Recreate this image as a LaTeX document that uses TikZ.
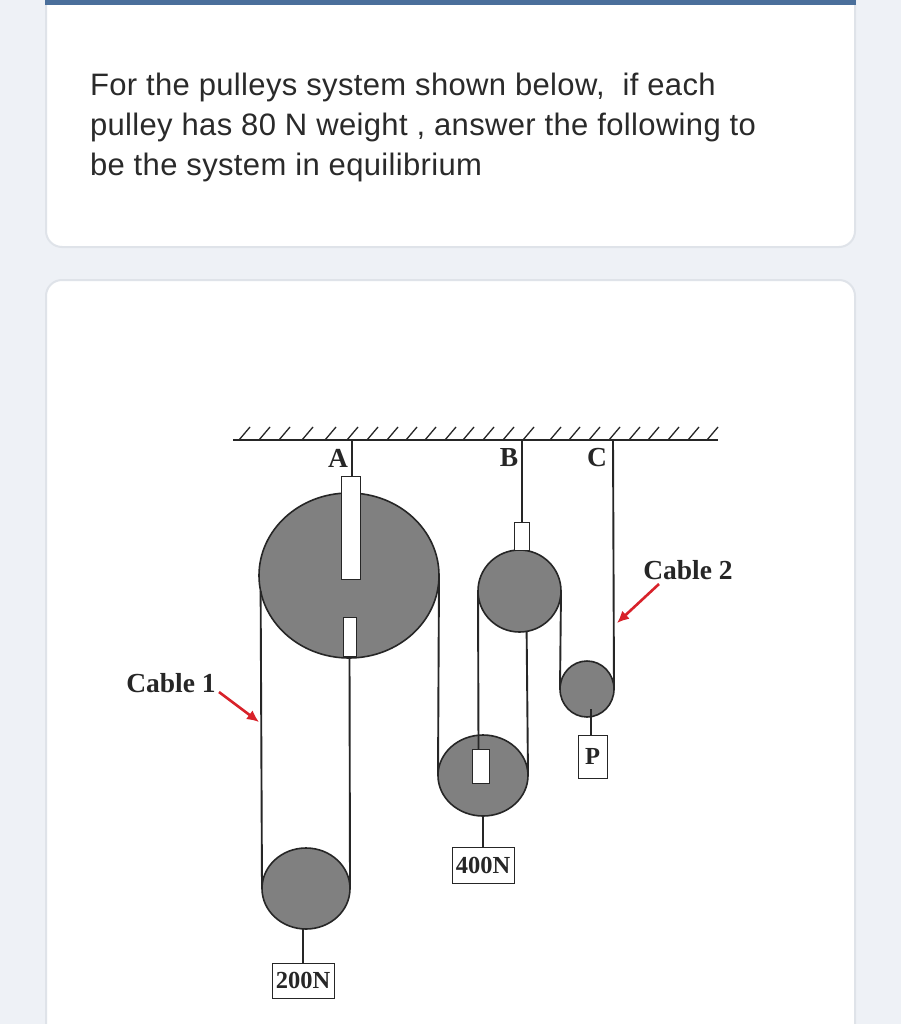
\documentclass[tikz,border=0pt]{standalone}
\usepackage{fontspec}
\setmainfont{Liberation Serif}
\newfontfamily\uifont[LetterSpace=1.1]{Liberation Sans}
\usetikzlibrary{shapes.geometric,arrows.meta}
\definecolor{pagebg}{HTML}{EEF1F6}
\definecolor{cardline}{HTML}{DFE3E9}
\definecolor{barblue}{HTML}{4A6F9B}
\definecolor{pulleygray}{HTML}{808080}
\definecolor{arrowred}{HTML}{D8222A}
\definecolor{inkline}{HTML}{262626}
\definecolor{uitext}{HTML}{2A2A2A}
\tikzset{
  x=1pt,y=-1pt,
  card/.style={fill=white,draw=cardline,line width=2pt,rounded corners=16pt},
  pulley/.style={ellipse,draw=inkline,fill=pulleygray,line width=1.6pt,inner sep=0pt,outer sep=0pt},
  slot/.style={rectangle,draw=inkline,fill=white,line width=1pt,inner sep=0pt,outer sep=0pt},
  weight/.style={rectangle,draw=inkline,fill=white,line width=1pt,inner sep=0pt,outer sep=0pt,font=\fontsize{24.5}{24.5}\selectfont\bfseries,text=inkline},
  rope/.style={draw=inkline,line width=1.9pt},
  thinrope/.style={draw=inkline,line width=1.3pt},
  hatch/.style={draw=inkline,line width=1.3pt},
  lab/.style={inner sep=0pt,outer sep=0pt,font=\fontsize{27.5}{27.5}\selectfont\bfseries,text=inkline},
  pointer/.style={draw=arrowred,line width=2.6pt,-{Latex[length=12pt,width=11pt]}},
  uiline/.style={inner sep=0pt,outer sep=0pt,anchor=base west,text=uitext,font=\fontsize{31}{31}\selectfont\uifont}
}
\begin{document}
\begin{tikzpicture}
\useasboundingbox (0,0) rectangle (901,1024);
\clip (0,0) rectangle (901,1024);
\fill[pagebg] (0,0) rectangle (901,1024);
\draw[card] (46,-30) rectangle (855,247);
\draw[card] (46,280) rectangle (855,1060);
\fill[barblue] (45,0) rectangle (856,5);
\node[uiline] (t1) at (90,96) {For the pulleys system shown below,\ \ if each};
\node[uiline] (t2) at (90,136) {pulley has 80 N weight , answer the following to};
\node[uiline] (t3) at (90,176) {be the system in equilibrium};
% ceiling
\coordinate (ceilL) at (233,440);
\coordinate (ceilR) at (718,440);
\draw[rope] (ceilL) -- (ceilR);
\foreach \h in {239,259,279,302,325,347,367,387,406,425,445,463,483,503,523,550,569,589,609,629,648,668,688,707}
  \draw[hatch] (\h,440) -- ++(11,-13);
\coordinate (ceilA) at (352,440);
\coordinate (ceilB) at (522,440);
\coordinate (ceilC) at (613,440);
% pulleys
\node[pulley,minimum width=180pt,minimum height=165pt] (pA) at (349,575.5) {};
\node[pulley,minimum width=83pt,minimum height=82pt] (pB) at (519.5,591) {};
\node[pulley,minimum width=90pt,minimum height=81pt] (pE) at (483,775.5) {};
\node[pulley,minimum width=54pt,minimum height=56pt] (pS) at (587,689) {};
\node[pulley,minimum width=88pt,minimum height=81pt] (pD) at (306,888.5) {};
% slots and brackets
\node[slot,minimum width=19pt,minimum height=103pt] (sA) at (350.5,527.5) {};
\node[slot,minimum width=13pt,minimum height=39pt] (sA2) at (349.5,636.5) {};
\node[slot,minimum width=15pt,minimum height=28pt] (sB) at (521.5,536) {};
\node[slot,minimum width=17pt,minimum height=34pt] (sE) at (480.5,766) {};
% weights
\node[weight,minimum width=62pt,minimum height=35pt] (w200) at (303,980.5) {200N};
\node[weight,minimum width=62pt,minimum height=36pt] (w400) at (483,865) {400N};
\node[weight,minimum width=29pt,minimum height=43pt] (wP) at (592.5,756.5) {P};
% ropes
\coordinate (pSrod) at (591,709);
\draw[thinrope] (ceilA) -- (sA.north -| ceilA);
\draw[thinrope] (ceilB) -- (sB.north -| ceilB);
\draw[rope] (ceilC) -- (pS.east);
\draw[rope] (pA.190) -- (pD.west);
\draw[rope] (sA2.south) -- (pD.east);
\draw[rope] (pA.east) -- (pE.west);
\draw[rope] (pB.west) -- ([xshift=-2pt]sE.north);
\draw[rope] (pB.-80) -- (pE.east);
\draw[rope] (pB.east) -- (pS.west);
\draw[thinrope] (pD.south -| w200.north) -- (w200.north);
\draw[thinrope] (pE.south) -- (w400.north);
\draw[thinrope] (pSrod) -- (pSrod |- wP.north);
% labels
\node[lab] (lA) at (338,458) {A};
\node[lab] (lB) at (509,458) {B};
\node[lab] (lC) at (597,458) {C};
\node[lab] (c1) at (171,683) {Cable 1};
\node[lab] (c2) at (688,570) {Cable 2};
\coordinate (a1s) at (219,692);
\coordinate (a1e) at (259,722);
\coordinate (a2s) at (659,584);
\coordinate (a2e) at (617,623);
\draw[pointer] (a1s) -- (a1e);
\draw[pointer] (a2s) -- (a2e);
\end{tikzpicture}
\end{document}
